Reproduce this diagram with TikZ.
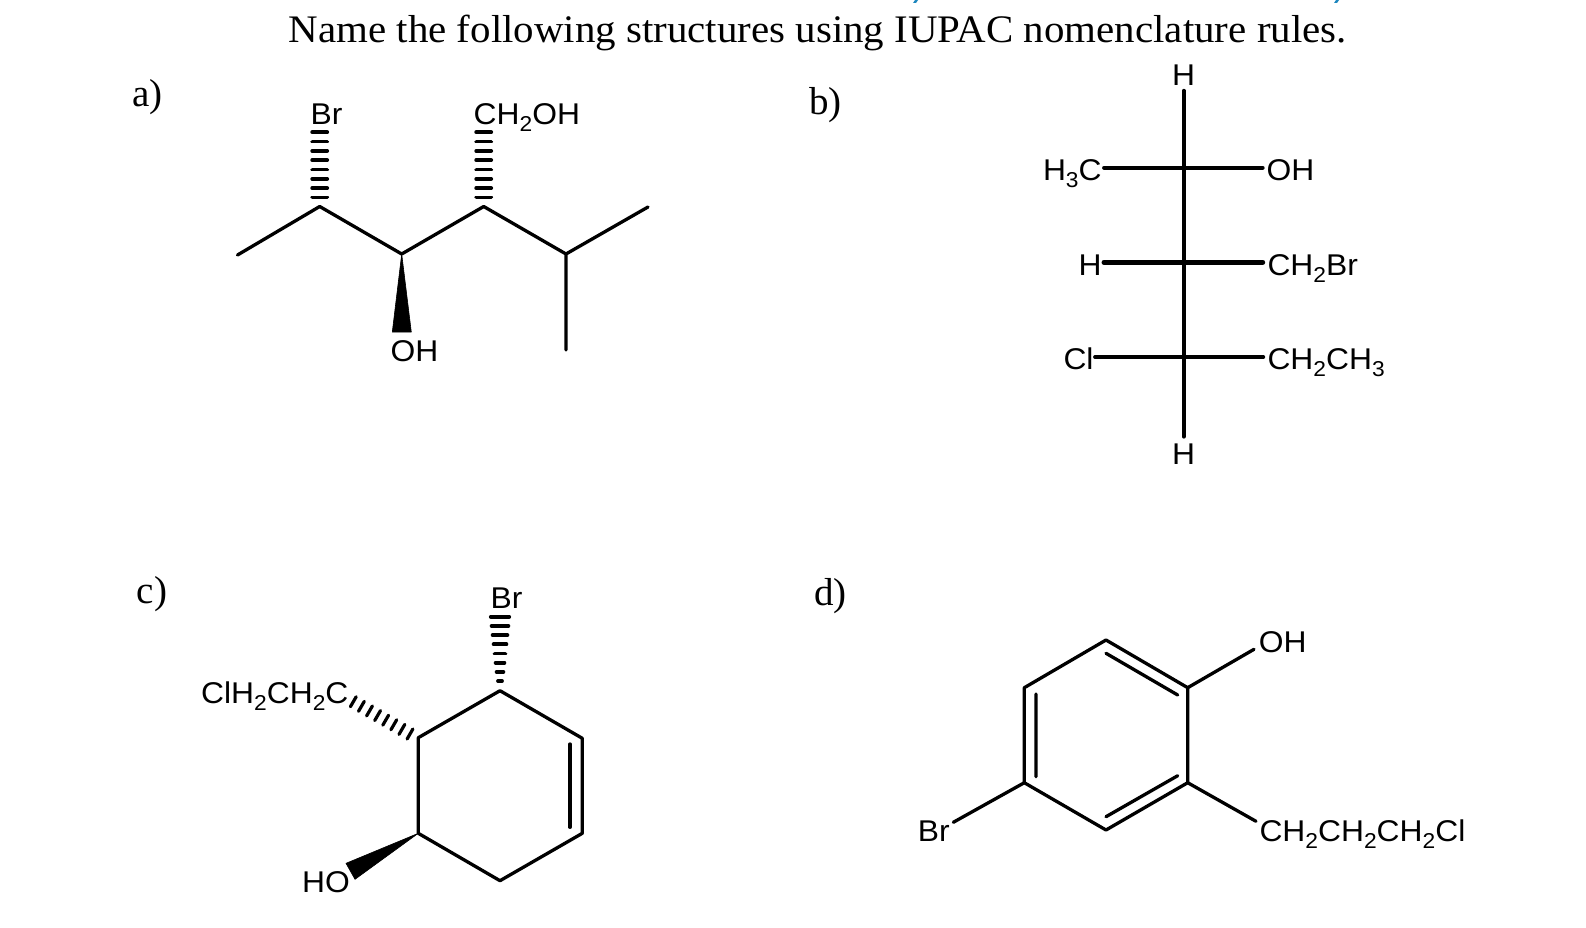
\documentclass[tikz,border=0pt]{standalone}
\usepackage{fontspec}
\setmainfont{Liberation Serif}
\newfontfamily\chemfont[FakeStretch=1.06]{Liberation Sans}
\newcommand\chemsub[1]{\raisebox{-7pt}{\fontsize{21.5}{21.5}\selectfont #1}}
\definecolor{markblue}{RGB}{30,135,190}
\tikzset{
  bond/.style={line width=3.3pt,line cap=round,line join=round,black},
  fisher/.style={line width=3.8pt,line cap=round,black},
  fisherthick/.style={line width=5pt,line cap=round,black},
  hashbar/.style={line width=3.8pt,line cap=round,black},
  wedgefill/.style={fill=black,draw=black,line width=0.6pt,line join=round},
  chem/.style={anchor=base west,inner sep=0pt,outer sep=0pt,font=\chemfont\fontsize{30}{30}\selectfont},
  serif/.style={anchor=base west,inner sep=0pt,outer sep=0pt,font=\fontsize{39}{39}\selectfont}
}
\begin{document}
\begin{tikzpicture}[x=1pt,y=-1pt]
\path[use as bounding box,fill=white] (0,0) rectangle (1586,928);
% clipped marks at the top edge
\fill[markblue] (913,3) -- (915,0) -- (918,0) -- (916,3) -- cycle;
\fill[markblue] (1334,3) -- (1336,0) -- (1339,0) -- (1337,3) -- cycle;
% title and labels
\node[serif] (title) at (288.7,42.5) {\resizebox{1058pt}{\height}{Name the following structures using IUPAC nomenclature rules.}};
\node[serif] (la) at (132,107) {a)};
\node[serif] (lb) at (809.3,114.8) {b)};
\node[serif] (lc) at (136.7,603.7) {c)};
\node[serif] (ld) at (814,605.3) {d)};
% ---- a
\coordinate (a1) at (237.5,255);
\coordinate (a2) at (319.7,206.5);
\coordinate (a3) at (401.7,254);
\coordinate (a4) at (483.7,206.5);
\coordinate (a5) at (566,254);
\coordinate (a6) at (648,207);
\coordinate (a7) at (566,350);
\coordinate (a8) at (392.3,332);
\coordinate (a9) at (411.3,332);
\draw[bond] (a1) -- (a2) -- (a3) -- (a4) -- (a5) -- (a6) (a5) -- (a7);
\filldraw[wedgefill] (a3) -- (a9) -- (a8) -- cycle;
\foreach \yy in {132.3,141.6,150.9,160.2,169.6,178.9,188.2,197.4}{
  \draw[hashbar] (319.7-7.5,\yy) -- (319.7+7.5,\yy);
  \draw[hashbar] (483.7-7.5,\yy) -- (483.7+7.5,\yy);
}
\node[chem] (aBr) at (310.7,125) {Br};
\node[chem] (aCH) at (473.7,125) {CH\chemsub{2}OH};
\node[chem] (aOH) at (390.7,361.5) {OH};
% ---- b
\coordinate (bt) at (1183.7,90.7);
\coordinate (bb) at (1183.7,436.7);
\coordinate (b1l) at (1104,167.7);
\coordinate (b1r) at (1262.7,167.7);
\coordinate (b2l) at (1104,262.3);
\coordinate (b2r) at (1262.7,262.3);
\coordinate (b3l) at (1095,357);
\coordinate (b3r) at (1263.3,357);
\draw[fisher] (bt) -- (bb);
\draw[fisher] (b1l) -- (b1r);
\draw[fisherthick] (b2l) -- (b2r);
\draw[fisher] (b3l) -- (b3r);
\node[chem,anchor=base] (bHt) at (1183.5,85.5) {H};
\node[chem] (bH3C) at (1043,180.5) {H\chemsub{3}C};
\node[chem] (bOH) at (1266.5,180.5) {OH};
\node[chem] (bH) at (1078.5,275) {H};
\node[chem] (bCH2Br) at (1267.5,275) {CH\chemsub{2}Br};
\node[chem] (bCl) at (1063.5,369.5) {Cl};
\node[chem] (bEt) at (1267.5,369.5) {CH\chemsub{2}CH\chemsub{3}};
\node[chem,anchor=base] (bHb) at (1183.5,464.5) {H};
% ---- c
\coordinate (c1) at (500,690.7);
\coordinate (c2) at (582.3,738.3);
\coordinate (c3) at (582.3,833.3);
\coordinate (c4) at (500,880.7);
\coordinate (c5) at (418.3,833.3);
\coordinate (c6) at (418.3,737.7);
\coordinate (c7) at (570,744);
\coordinate (c8) at (570,827.3);
\coordinate (c9) at (346,863.3);
\coordinate (c10) at (355,879.3);
\draw[bond] (c1) -- (c2) -- (c3) -- (c4) -- (c5) -- (c6) -- cycle;
\draw[bond] (c7) -- (c8);
\filldraw[wedgefill] (c5) -- (c9) -- (c10) -- cycle;
\foreach \yy/\hw in {616.7/9.2,625.9/8.4,635.1/7.4,644.3/6.4,653.5/5.4,662.7/4.4,671.9/3.4,681/2}{
  \draw[hashbar] (500-\hw,\yy) -- (500+\hw,\yy);
}
\foreach \ff in {0,1,2,3,4,5,6,7}{
  \draw[hashbar,line width=3.2pt]
    ({410-\ff*8.1+2.9},{734-\ff*4.61-5})
    -- ({410-\ff*8.1-2.9},{734-\ff*4.61+5});
}
\node[chem] (cBr) at (490.7,608.5) {Br};
\node[chem] (cCl) at (201.2,703.5) {ClH\chemsub{2}CH\chemsub{2}C};
\node[chem] (cHO) at (302.2,892) {HO};
% ---- d
\coordinate (d1) at (1106,640);
\coordinate (d2) at (1187.7,687.7);
\coordinate (d3) at (1187.7,782.7);
\coordinate (d4) at (1106,830);
\coordinate (d5) at (1024.3,782.7);
\coordinate (d6) at (1024.3,687.7);
\coordinate (d7) at (1036,694);
\coordinate (d8) at (1036,776.7);
\coordinate (d9) at (1106,653.3);
\coordinate (d10) at (1177.7,695);
\coordinate (d11) at (1106,816.7);
\coordinate (d12) at (1177.7,775.7);
\coordinate (d13) at (953.3,822.3);
\coordinate (d14) at (1254,649.3);
\coordinate (d15) at (1256,821.3);
\draw[bond] (d1) -- (d2) -- (d3) -- (d4) -- (d5) -- (d6) -- cycle;
\draw[bond] (d7) -- (d8) (d9) -- (d10) (d11) -- (d12);
\draw[bond] (d5) -- (d13) (d2) -- (d14) (d3) -- (d15);
\node[chem] (dBr) at (917.8,841.3) {Br};
\node[chem] (dOH) at (1258.8,652.5) {OH};
\node[chem] (dCH) at (1259.5,841.3) {CH\chemsub{2}CH\chemsub{2}CH\chemsub{2}Cl};
\end{tikzpicture}
\end{document}
